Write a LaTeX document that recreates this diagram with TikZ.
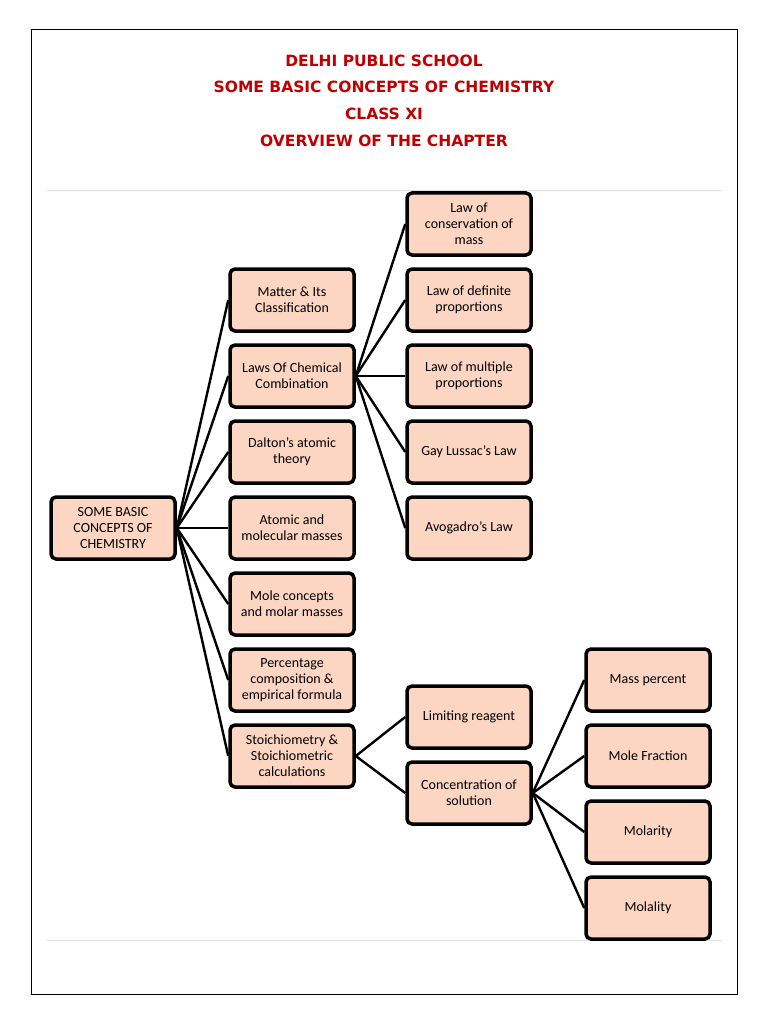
\documentclass[tikz,border=0pt]{standalone}
\usepackage{fontspec}
\setmainfont{Carlito}
\newfontfamily\titlefont{DejaVu Sans}
\definecolor{boxfill}{RGB}{252,214,194}
\definecolor{titlered}{RGB}{192,0,0}
\tikzset{
  box/.style={draw=black,line width=3.5pt,fill=boxfill,rounded corners=5pt,
    minimum width=124pt,minimum height=62pt,align=center,inner sep=2pt,
    font=\fontsize{14}{16}\selectfont},
  link/.style={line width=2.4pt},
  ttl/.style={text=titlered,font=\titlefont\bfseries\fontsize{15.5}{18}\selectfont}
}
\begin{document}
\begin{tikzpicture}[x=1pt,y=-1pt]
\useasboundingbox (0,0) rectangle (768,1024);
\draw[line width=1pt] (31,30) rectangle (737,994);
\draw[gray!25,line width=1pt] (47,191) -- (722,191);
\draw[gray!25,line width=1pt] (47,940) -- (722,940);
%
\node[ttl] (t1) at (384,61) {DELHI PUBLIC SCHOOL};
\node[ttl] (t2) at (384,87) {SOME BASIC CONCEPTS OF CHEMISTRY};
\node[ttl] (t3) at (384,114) {CLASS XI};
\node[ttl] (t4) at (384,141) {OVERVIEW OF THE CHAPTER};
%
\node[box] (root) at (113,528) {SOME BASIC\\CONCEPTS OF\\CHEMISTRY};
%
\node[box] (matter) at (292,300) {Matter \& Its\\Classification};
\node[box] (laws) at (292,376) {Laws Of Chemical\\Combination};
\node[box] (dalton) at (292,452) {Dalton's atomic\\theory};
\node[box] (atomic) at (292,528) {Atomic and\\molecular masses};
\node[box] (mole) at (292,604) {Mole concepts\\and molar masses};
\node[box] (percent) at (292,680) {Percentage\\composition \&\\empirical formula};
\node[box] (stoich) at (292,756) {Stoichiometry \&\\Stoichiometric\\calculations};
%
\node[box] (cons) at (469,224) {Law of\\conservation of\\mass};
\node[box] (defin) at (469,300) {Law of definite\\proportions};
\node[box] (multi) at (469,376) {Law of multiple\\proportions};
\node[box] (gay) at (469,452) {Gay Lussac's Law};
\node[box] (avog) at (469,528) {Avogadro's Law};
\node[box] (limit) at (469,717) {Limiting reagent};
\node[box] (conc) at (469,793) {Concentration of\\solution};
%
\node[box] (mpct) at (648,680) {Mass percent};
\node[box] (mfrac) at (648,756) {Mole Fraction};
\node[box] (molar) at (648,832) {Molarity};
\node[box] (molal) at (648,908) {Molality};
%
\foreach \n in {matter,laws,dalton,atomic,mole,percent,stoich}
  \draw[link] (root.east) -- (\n.west);
\foreach \n in {cons,defin,multi,gay,avog}
  \draw[link] (laws.east) -- (\n.west);
\foreach \n in {limit,conc}
  \draw[link] (stoich.east) -- (\n.west);
\foreach \n in {mpct,mfrac,molar,molal}
  \draw[link] (conc.east) -- (\n.west);
\end{tikzpicture}
\end{document}
